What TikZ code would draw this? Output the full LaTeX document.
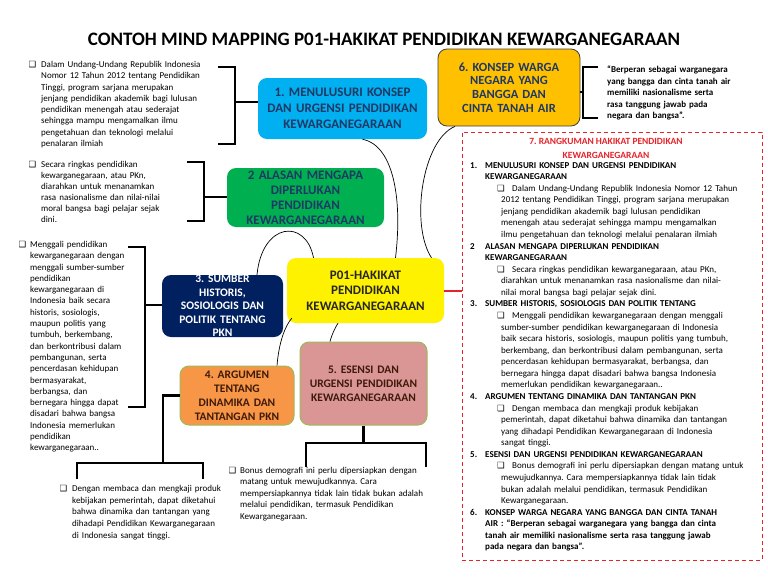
\documentclass[tikz,border=0pt]{standalone}
\usepackage{fontspec}
\setmainfont{Carlito}
\newfontfamily\symfont{DejaVu Sans}
\usepackage{xcolor}
\setlength{\parindent}{0pt}
\frenchspacing

\definecolor{konsepblue}{HTML}{00B0F0}
\definecolor{alasangreen}{HTML}{00B050}
\definecolor{sumbernavy}{HTML}{002060}
\definecolor{argumenorange}{HTML}{F79646}
\definecolor{esensipink}{HTML}{D99694}
\definecolor{wargagold}{HTML}{FFC000}
\definecolor{edgegreen}{HTML}{9BBB59}
\definecolor{boxtext}{HTML}{1F3864}
\definecolor{browntext}{HTML}{3F1A0A}
\definecolor{rangkumanred}{HTML}{E5232A}

\newcommand{\chk}{{\symfont\fontsize{8.5}{8.5}\selectfont ❑}}
\newcommand{\jl}[2]{\makebox[#1][s]{#2}\\}
\newcommand{\num}[1]{\makebox[15pt][l]{#1}}

\tikzset{
  topic/.style={rounded corners=9pt, align=center, inner sep=0pt},
  note/.style={anchor=north west, inner sep=0pt, align=left},
  link/.style={black, line width=0.7pt},
  brace/.style={black, line width=2.2pt},
}

\begin{document}
\begin{tikzpicture}[x=1pt,y=-1pt]
\fill[white] (0,0) rectangle (768,576);
\useasboundingbox (0,0) rectangle (768,576);

\node (title) at (384,39) {\bfseries\fontsize{19}{21}\selectfont CONTOH MIND MAPPING P01-HAKIKAT PENDIDIKAN KEWARGANEGARAAN};

\node[topic, fill=konsepblue, text=boxtext, minimum width=169pt, minimum height=61pt, text width=160pt, font=\bfseries\fontsize{13}{16}\selectfont] (konsep) at (342.5,108.5) {1. MENULUSURI KONSEP\\DAN URGENSI PENDIDIKAN\\KEWARGANEGARAAN};
\node[topic, fill=alasangreen, text=boxtext, minimum width=157pt, minimum height=59pt, text width=150pt, font=\bfseries\fontsize{13}{15}\selectfont] (alasan) at (305.5,197.5) {2 ALASAN MENGAPA\\DIPERLUKAN\\PENDIDIKAN\\KEWARGANEGARAAN};
\node[topic, fill=wargagold, draw=black!75, line width=0.8pt, text=boxtext, minimum width=142pt, minimum height=77pt, text width=136pt, font=\bfseries\fontsize{12.5}{13.7}\selectfont] (warga) at (509,87.5) {6. KONSEP WARGA\\NEGARA YANG\\BANGGA DAN\\CINTA TANAH AIR};
\node[topic, fill=yellow, text=black!85, minimum width=157pt, minimum height=65pt, text width=150pt, font=\bfseries\fontsize{13}{15.5}\selectfont] (root) at (365.5,290.5) {P01-HAKIKAT\\PENDIDIKAN\\KEWARGANEGARAAN};
\node[topic, fill=sumbernavy, text=white, minimum width=121pt, minimum height=62pt, text width=117pt, font=\bfseries\fontsize{11.5}{13.5}\selectfont] (sumber) at (222.5,306) {3. SUMBER\\HISTORIS,\\SOSIOLOGIS DAN\\POLITIK TENTANG\\PKN};
\node[topic, fill=argumenorange, draw=edgegreen, line width=1pt, text=browntext, minimum width=114pt, minimum height=59pt, text width=110pt, font=\bfseries\fontsize{11.5}{14}\selectfont] (argumen) at (237,395.5) {4. ARGUMEN\\TENTANG\\DINAMIKA DAN\\TANTANGAN PKN};
\node[topic, fill=esensipink, draw=edgegreen, line width=1pt, text=browntext, minimum width=127pt, minimum height=83pt, text width=122pt, font=\bfseries\fontsize{11.5}{14}\selectfont] (esensi) at (363.5,383.5) {5. ESENSI DAN\\URGENSI PENDIDIKAN\\KEWARGANEGARAAN};

\node[draw=rangkumanred, dashed, dash pattern=on 4pt off 3pt, line width=1pt, minimum width=300pt, minimum height=428pt] (rangkuman) at (612,346) {};

\draw[link] ([xshift=20pt]konsep.south) .. controls (392,145) and (403,195) .. ([xshift=30pt]root.north);
\draw[link] ([xshift=-54pt]warga.south) .. controls (422,140) and (410,225) .. ([xshift=66pt]root.north);
\draw[link] ([xshift=34.5pt]sumber.north) .. controls (262,222) and (306,218) .. ([xshift=-52pt]root.north);
\draw[link] ([xshift=40pt]argumen.north) .. controls (279,342) and (285,326) .. ([shift={(5,-5)}]root.south west);
\draw[link] ([xshift=-33.5pt]esensi.north) .. controls (332,334) and (335,328) .. ([xshift=-27.5pt]root.south);
\draw[rangkumanred, line width=2pt] (root.east) -- (root.east -| rangkuman.west);

\node[note, font=\fontsize{9}{11.3}\selectfont, text width=168pt] (tkonsep) at (41,61) {%
\jl{168pt}{\llap{\chk\hspace{5pt}}Dalam Undang-Undang Republik Indonesia}
\jl{168pt}{Nomor 12 Tahun 2012 tentang Pendidikan}
\jl{168pt}{Tinggi, program sarjana merupakan}
\jl{168pt}{jenjang pendidikan akademik bagi lulusan}
\jl{168pt}{pendidikan menengah atau sederajat}
\jl{168pt}{sehingga mampu mengamalkan ilmu}
\jl{168pt}{pengetahuan dan teknologi melalui}
penalaran ilmiah};
\draw[brace] (218,67) -| (235,144) -- (218,144);
\coordinate (bkonsep) at (235,102);
\draw[brace] (bkonsep) -- (bkonsep -| konsep.west);

\node[note, font=\fontsize{9}{11}\selectfont, text width=126pt] (talasan) at (41,161) {%
\jl{126pt}{\llap{\chk\hspace{5pt}}Secara ringkas pendidikan}
\jl{126pt}{kewarganegaraan, atau PKn,}
\jl{126pt}{diarahkan untuk menanamkan}
\jl{126pt}{rasa nasionalisme dan nilai-nilai}
\jl{126pt}{moral bangsa bagi pelajar sejak}
dini.};
\draw[brace] (187,162) -| (204,221) -- (187,221);
\coordinate (balasan) at (204,197);
\draw[brace] (balasan) -- (balasan -| alasan.west);

\node[note, font=\fontsize{9}{11.3}\selectfont, text width=110pt] (tsumber) at (30,241) {%
\llap{\chk\hspace{4pt}}Menggali pendidikan\\
kewarganegaraan dengan\\
menggali sumber-sumber\\
pendidikan\\
kewarganegaraan di\\
Indonesia baik secara\\
historis, sosiologis,\\
maupun politis yang\\
tumbuh, berkembang,\\
dan berkontribusi dalam\\
pembangunan, serta\\
pencerdasan kehidupan\\
bermasyarakat,\\
berbangsa, dan\\
bernegara hingga dapat\\
disadari bahwa bangsa\\
Indonesia memerlukan\\
pendidikan\\
kewarganegaraan..};
\draw[brace] (128,247) -| (145,407) -- (128,407);
\coordinate (bsumber) at (145,305);
\draw[brace] (bsumber) -- (bsumber -| sumber.west);

\coordinate (bargumen) at (163,463);
\draw[brace] (argumen.west) -| (bargumen);
\draw[brace] (77,479) |- (203,463) -- (203,479);
\node[note, font=\fontsize{9}{11.7}\selectfont, text width=148pt] (targumen) at (72,485) {%
\jl{148pt}{\llap{\chk\hspace{5pt}}Dengan membaca dan mengkaji produk}
\jl{148pt}{kebijakan pemerintah, dapat diketahui}
\jl{148pt}{bahwa dinamika dan tantangan yang}
\jl{148pt}{dihadapi Pendidikan Kewarganegaraan}
di Indonesia sangat tinggi.};

\coordinate (besensi) at (363.5,443);
\draw[brace] (esensi.south) -- (besensi);
\draw[brace] (306,467) |- (426,443) -- (426,467);
\node[note, font=\fontsize{9}{11.5}\selectfont, text width=213pt] (tesensi) at (240,467) {%
\jl{213pt}{\llap{\chk\hspace{4pt}}Bonus demografi ini perlu dipersiapkan dengan}
\jl{213pt}{matang untuk mewujudkannya. Cara}
\jl{213pt}{mempersiapkannya tidak lain tidak bukan adalah}
\jl{213pt}{melalui pendidikan, termasuk Pendidikan}
Kewarganegaraan.};

\coordinate (bwarga) at (583,92);
\draw[brace] (598,67) -| (583,118) -- (598,118);
\draw[brace] (warga.east |- bwarga) -- (bwarga);
\node[note, font=\bfseries\fontsize{9}{11.5}\selectfont, text width=130pt] (twarga) at (607,66) {%
\jl{130pt}{“Berperan sebagai warganegara}
\jl{130pt}{yang bangga dan cinta tanah air}
\jl{130pt}{memiliki nasionalisme serta}
\jl{130pt}{rasa tanggung jawab pada}
negara dan bangsa”.};

\node[align=center, text=rangkumanred, font=\bfseries\fontsize{9.5}{14}\selectfont] (trangkuman) at (606,148) {7. RANGKUMAN HAKIKAT PENDIDIKAN\\KEWARGANEGARAAN};
\node[note, font=\fontsize{9}{11.57}\selectfont, text width=292pt] (tlist) at (470,162) {%
\textbf{\num{1.}MENULUSURI KONSEP DAN URGENSI PENDIDIKAN}\\
\textbf{\hspace*{15pt}KEWARGANEGARAAN}\\
\hspace*{27pt}\makebox[15pt][l]{\chk}Dalam Undang-Undang Republik Indonesia Nomor 12 Tahun\\
\hspace*{31pt}2012 tentang Pendidikan Tinggi, program sarjana merupakan\\
\hspace*{31pt}jenjang pendidikan akademik bagi lulusan pendidikan\\
\hspace*{31pt}menengah atau sederajat sehingga mampu mengamalkan\\
\hspace*{31pt}ilmu pengetahuan dan teknologi melalui penalaran ilmiah\\
\textbf{\num{2}ALASAN MENGAPA DIPERLUKAN PENDIDIKAN}\\
\textbf{\hspace*{15pt}KEWARGANEGARAAN}\\
\hspace*{27pt}\makebox[15pt][l]{\chk}Secara ringkas pendidikan kewarganegaraan, atau PKn,\\
\hspace*{31pt}diarahkan untuk menanamkan rasa nasionalisme dan nilai-\\
\hspace*{31pt}nilai moral bangsa bagi pelajar sejak dini.\\
\textbf{\num{3.}SUMBER HISTORIS, SOSIOLOGIS DAN POLITIK TENTANG}\\
\hspace*{27pt}\makebox[15pt][l]{\chk}Menggali pendidikan kewarganegaraan dengan menggali\\
\hspace*{31pt}sumber-sumber pendidikan kewarganegaraan di Indonesia\\
\hspace*{31pt}baik secara historis, sosiologis, maupun politis yang tumbuh,\\
\hspace*{31pt}berkembang, dan berkontribusi dalam pembangunan, serta\\
\hspace*{31pt}pencerdasan kehidupan bermasyarakat, berbangsa, dan\\
\hspace*{31pt}bernegara hingga dapat disadari bahwa bangsa Indonesia\\
\hspace*{31pt}memerlukan pendidikan kewarganegaraan..\\
\textbf{\num{4.}ARGUMEN TENTANG DINAMIKA DAN TANTANGAN PKN}\\
\hspace*{27pt}\makebox[15pt][l]{\chk}Dengan membaca dan mengkaji produk kebijakan\\
\hspace*{31pt}pemerintah, dapat diketahui bahwa dinamika dan tantangan\\
\hspace*{31pt}yang dihadapi Pendidikan Kewarganegaraan di Indonesia\\
\hspace*{31pt}sangat tinggi.\\
\textbf{\num{5.}ESENSI DAN URGENSI PENDIDIKAN KEWARGANEGARAAN}\\
\hspace*{27pt}\makebox[15pt][l]{\chk}Bonus demografi ini perlu dipersiapkan dengan matang untuk\\
\hspace*{31pt}mewujudkannya. Cara mempersiapkannya tidak lain tidak\\
\hspace*{31pt}bukan adalah melalui pendidikan, termasuk Pendidikan\\
\hspace*{31pt}Kewarganegaraan.\\
\textbf{\num{6.}KONSEP WARGA NEGARA YANG BANGGA DAN CINTA TANAH}\\
\textbf{\hspace*{15pt}AIR : “Berperan sebagai warganegara yang bangga dan cinta}\\
\textbf{\hspace*{15pt}tanah air memiliki nasionalisme serta rasa tanggung jawab}\\
\textbf{\hspace*{15pt}pada negara dan bangsa”.}};
\end{tikzpicture}
\end{document}
